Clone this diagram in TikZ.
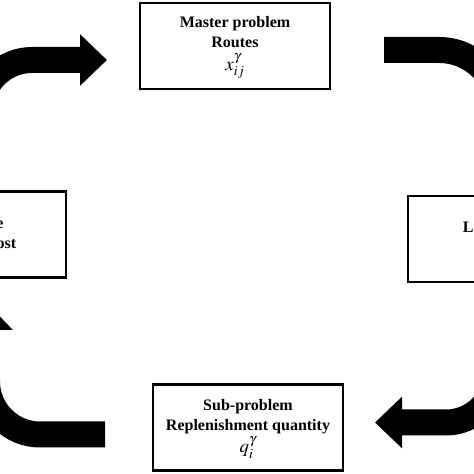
\documentclass[tikz,border=0pt]{standalone}
\usepackage{mathptmx}
\usepackage{fontspec}
\setmainfont{Liberation Serif}
\usetikzlibrary{arrows.meta}
\newcommand{\boxtext}[1]{\raisebox{-3pt}{\begin{tabular}{@{}c@{}}#1\end{tabular}}}
\tikzset{
  box/.style={draw, line width=2.8pt, minimum width=190pt, minimum height=86pt, inner sep=0pt, font=\fontsize{16}{20}\selectfont\bfseries},
  bigarrow/.style={line width=26pt, -{Triangle[width=50pt,length=27pt]}}
}
\begin{document}
\begin{tikzpicture}[x=1pt,y=1pt]
\useasboundingbox (0,0) rectangle (474,474);
\clip (0,0) rectangle (474,474);

\node [box] (b1) at (235,428) {\boxtext{Master problem\\Routes\\{\fontsize{19}{20}\selectfont$x_{ij}^{\gamma}$}}};
\node [box] (b2) at (503,235) {\boxtext{Lagrangian\\bound}};
\node [box] (b3) at (248,46.5) {\boxtext{Sub-problem\\Replenishment quantity\\{\fontsize{19}{20}\selectfont$q_{i}^{\gamma}$}}};
\node [box] (b4) at (-29,239.5) {\boxtext{Calculate\\Reduced cost}};

\coordinate (c1) at (-20,302);
\coordinate (c2) at (107,414);
\coordinate (c3) at (384,424);
\coordinate (c4) at (500,289);
\coordinate (c5) at (496,174);
\coordinate (c6) at (375,51.5);
\coordinate (c7) at (105,39.5);
\coordinate (c8) at (-13,171);

\draw [bigarrow, rounded corners=52pt] (c1) |- (c2);
\draw [bigarrow, rounded corners=61pt] (c3) -| (c4);
\draw [bigarrow, rounded corners=50pt] (c5) |- (c6);
\draw [bigarrow, rounded corners=53pt] (c7) -| (c8);
\end{tikzpicture}
\end{document}
